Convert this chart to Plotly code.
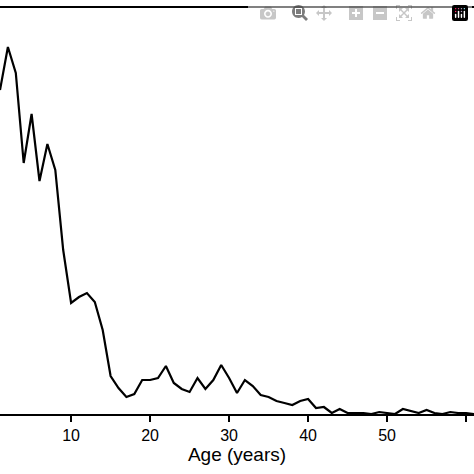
import plotly.graph_objects as go

ages = list(range(1, 62))
y_px = [90, 47, 73, 163, 114, 181, 144, 170, 250, 303,
        297, 293, 302, 330, 376, 388, 397, 394, 380, 380,
        378, 366, 383, 389, 392, 378, 389, 380, 365, 378,
        393, 380, 386, 395, 397, 401, 403, 405, 401, 399,
        408, 407, 413, 409, 413, 413, 413, 414, 412, 413,
        415, 409, 411, 413, 410, 413, 414, 412, 413, 413, 414]
values = [max(0, 414 - v) for v in y_px]

fig = go.Figure(go.Scatter(x=ages, y=values, mode="lines",
                           line=dict(color="black", width=2.2)))
fig.update_layout(
    width=474, height=474, margin=dict(l=0, r=0, t=8, b=60),
    plot_bgcolor="white", paper_bgcolor="white", showlegend=False,
    font=dict(family="Liberation Sans, Arial", size=16, color="black"),
)
fig.update_xaxes(range=[1, 61], tickvals=[10, 20, 30, 40, 50, 60],
                 ticks="outside", ticklen=6, tickwidth=1.5, tickcolor="black",
                 showline=True, linecolor="black", linewidth=1.5, mirror=True,
                 showgrid=False, zeroline=False, automargin=False,
                 title=dict(text="Age (years)", standoff=4))
fig.update_yaxes(range=[0, 406], showticklabels=False, showgrid=False,
                 zeroline=False, ticks="", automargin=False)
fig.write_html("out.html")

with open("out.html", encoding="utf-8") as f:
    html = f.read()
html = html.replace("<head>", "<head><style>html,body{margin:0;padding:0;overflow:hidden;}</style>", 1)
with open("out.html", "w", encoding="utf-8") as f:
    f.write(html)
